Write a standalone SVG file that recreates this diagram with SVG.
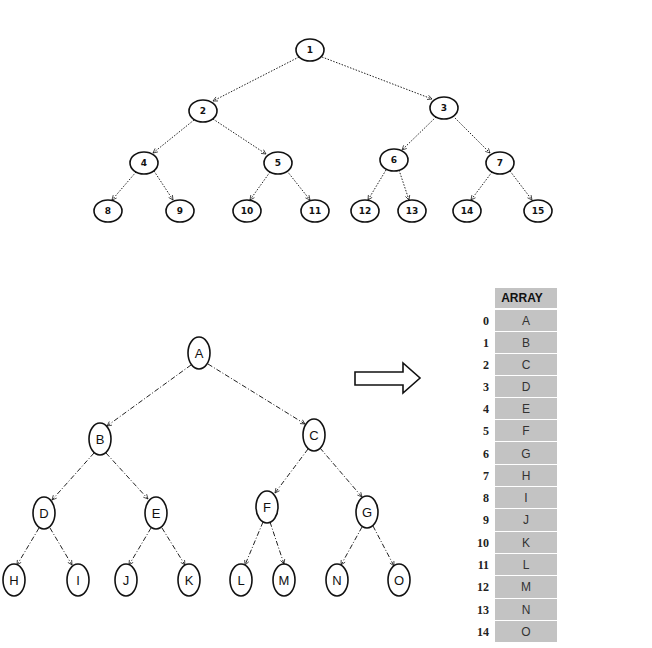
<svg xmlns="http://www.w3.org/2000/svg" width="652" height="648" viewBox="0 0 652 648">
<style>
.n1 ellipse{fill:#fff;stroke:#111;stroke-width:1.6}
.n1 text{font-family:"DejaVu Sans",sans-serif;font-weight:bold;font-size:9px;text-anchor:middle;fill:#111}
.n2 ellipse{fill:#fff;stroke:#111;stroke-width:1.6}
.n2 text{font-family:"Liberation Sans",Arial,sans-serif;font-size:13px;text-anchor:middle;fill:#111}
.e1 line{stroke:#222;stroke-width:1;stroke-dasharray:1.5 1.5;marker-end:url(#ah)}
.e2 line{stroke:#222;stroke-width:1;stroke-dasharray:5 2 1 2;marker-end:url(#ah)}
.cell{fill:#c3c3c3}
.ct{font-family:"Liberation Sans",Arial,sans-serif;font-size:12px;text-anchor:middle;fill:#333}
.ix{font-family:"Liberation Serif","Times New Roman",serif;font-weight:bold;font-size:12px;text-anchor:end;fill:#222}
</style>
<defs>
<marker id="ah" viewBox="0 0 8 8" refX="7" refY="4" markerWidth="6" markerHeight="6" orient="auto" markerUnits="userSpaceOnUse">
<path d="M1,1 L7,4 L1,7" fill="none" stroke="#222" stroke-width="1"/>
</marker>
</defs>
<rect width="652" height="648" fill="#fff"/>
<g id="connectors">
<g class="e1">
<line x1="299" y1="57" x2="213" y2="101"/>
<line x1="322" y1="57" x2="432" y2="99"/>
<line x1="194" y1="120" x2="153" y2="153"/>
<line x1="213" y1="119" x2="266" y2="154"/>
<line x1="436" y1="117" x2="402" y2="150"/>
<line x1="453" y1="116" x2="490" y2="153"/>
<line x1="136" y1="172" x2="112" y2="200"/>
<line x1="154" y1="171" x2="173" y2="200"/>
<line x1="270" y1="172" x2="250" y2="200"/>
<line x1="287" y1="171" x2="310" y2="200"/>
<line x1="386" y1="170" x2="368" y2="200"/>
<line x1="399" y1="170" x2="409" y2="200"/>
<line x1="492" y1="172" x2="471" y2="200"/>
<line x1="510" y1="171" x2="532" y2="200"/>
</g>
<g class="e2">
<line x1="191" y1="365" x2="107" y2="426"/>
<line x1="208" y1="364" x2="305" y2="424"/>
<line x1="94" y1="453" x2="52" y2="500"/>
<line x1="106" y1="453" x2="148" y2="499"/>
<line x1="308" y1="449" x2="275" y2="493"/>
<line x1="320" y1="448" x2="362" y2="497"/>
<line x1="39" y1="528" x2="17" y2="565"/>
<line x1="50" y1="528" x2="72" y2="565"/>
<line x1="151" y1="528" x2="129" y2="565"/>
<line x1="162" y1="528" x2="185" y2="565"/>
<line x1="263" y1="522" x2="245" y2="565"/>
<line x1="270" y1="522" x2="284" y2="564"/>
<line x1="362" y1="527" x2="341" y2="565"/>
<line x1="373" y1="526" x2="394" y2="566"/>
</g>
</g>
<g id="n_1" class="n1"><ellipse cx="310" cy="50" rx="14" ry="11"/><text x="310" y="53">1</text></g>
<g id="n_2" class="n1"><ellipse cx="203" cy="111" rx="14" ry="11"/><text x="203" y="114">2</text></g>
<g id="n_3" class="n1"><ellipse cx="444" cy="108" rx="14" ry="11"/><text x="444" y="111">3</text></g>
<g id="n_4" class="n1"><ellipse cx="144" cy="163" rx="14" ry="11"/><text x="144" y="166">4</text></g>
<g id="n_5" class="n1"><ellipse cx="278" cy="163" rx="14" ry="11"/><text x="278" y="166">5</text></g>
<g id="n_6" class="n1"><ellipse cx="394" cy="160" rx="14" ry="11"/><text x="394" y="163">6</text></g>
<g id="n_7" class="n1"><ellipse cx="500" cy="163" rx="14" ry="11"/><text x="500" y="166">7</text></g>
<g id="n_8" class="n1"><ellipse cx="108" cy="211" rx="14" ry="11"/><text x="108" y="214">8</text></g>
<g id="n_9" class="n1"><ellipse cx="180" cy="211" rx="14" ry="11"/><text x="180" y="214">9</text></g>
<g id="n_10" class="n1"><ellipse cx="247" cy="211" rx="14" ry="11"/><text x="247" y="214">10</text></g>
<g id="n_11" class="n1"><ellipse cx="315" cy="211" rx="14" ry="11"/><text x="315" y="214">11</text></g>
<g id="n_12" class="n1"><ellipse cx="365" cy="211" rx="14" ry="11"/><text x="365" y="214">12</text></g>
<g id="n_13" class="n1"><ellipse cx="412" cy="211" rx="14" ry="11"/><text x="412" y="214">13</text></g>
<g id="n_14" class="n1"><ellipse cx="467" cy="211" rx="14" ry="11"/><text x="467" y="214">14</text></g>
<g id="n_15" class="n1"><ellipse cx="538" cy="211" rx="14" ry="11"/><text x="538" y="214">15</text></g>

<g id="n_A" class="n2"><ellipse cx="199" cy="353" rx="11" ry="16"/><text x="199" y="358">A</text></g>
<g id="n_B" class="n2"><ellipse cx="100" cy="439" rx="11" ry="16"/><text x="100" y="444">B</text></g>
<g id="n_C" class="n2"><ellipse cx="314" cy="435" rx="11" ry="16"/><text x="314" y="440">C</text></g>
<g id="n_D" class="n2"><ellipse cx="44" cy="513" rx="11" ry="16"/><text x="44" y="518">D</text></g>
<g id="n_E" class="n2"><ellipse cx="156" cy="513" rx="11" ry="16"/><text x="156" y="518">E</text></g>
<g id="n_F" class="n2"><ellipse cx="267" cy="507" rx="11" ry="16"/><text x="267" y="512">F</text></g>
<g id="n_G" class="n2"><ellipse cx="367" cy="512" rx="11" ry="16"/><text x="367" y="517">G</text></g>
<g id="n_H" class="n2"><ellipse cx="14" cy="580" rx="11" ry="16"/><text x="14" y="585">H</text></g>
<g id="n_I" class="n2"><ellipse cx="78" cy="580" rx="11" ry="16"/><text x="78" y="585">I</text></g>
<g id="n_J" class="n2"><ellipse cx="126" cy="580" rx="11" ry="16"/><text x="126" y="585">J</text></g>
<g id="n_K" class="n2"><ellipse cx="189" cy="580" rx="11" ry="16"/><text x="189" y="585">K</text></g>
<g id="n_L" class="n2"><ellipse cx="241" cy="580" rx="11" ry="16"/><text x="241" y="585">L</text></g>
<g id="n_M" class="n2"><ellipse cx="284" cy="580" rx="11" ry="16"/><text x="284" y="585">M</text></g>
<g id="n_N" class="n2"><ellipse cx="337" cy="580" rx="11" ry="16"/><text x="337" y="585">N</text></g>
<g id="n_O" class="n2"><ellipse cx="399" cy="580" rx="11" ry="16"/><text x="399" y="585">O</text></g>

<g id="block-arrow">
<path d="M355,372 L403,372 L403,363 L420,378 L403,393 L403,385 L355,385 Z" fill="#fff" stroke="#111" stroke-width="1.6" stroke-linejoin="miter"/>
</g>

<g id="array">
<rect class="cell" x="495" y="288" width="62" height="20"/>
<text x="522" y="302" font-family="Liberation Sans,Arial,sans-serif" font-weight="bold" font-size="12" text-anchor="middle" fill="#111">ARRAY</text>
<rect class="cell" x="495" y="310" width="62" height="21"/><text class="ct" x="526" y="325">A</text><text class="ix" x="489" y="325">0</text>
<rect class="cell" x="495" y="332" width="62" height="21"/><text class="ct" x="526" y="347">B</text><text class="ix" x="489" y="347">1</text>
<rect class="cell" x="495" y="354" width="62" height="21"/><text class="ct" x="526" y="369">C</text><text class="ix" x="489" y="369">2</text>
<rect class="cell" x="495" y="376" width="62" height="21"/><text class="ct" x="526" y="391">D</text><text class="ix" x="489" y="391">3</text>
<rect class="cell" x="495" y="398" width="62" height="21"/><text class="ct" x="526" y="413">E</text><text class="ix" x="489" y="413">4</text>
<rect class="cell" x="495" y="420" width="62" height="21"/><text class="ct" x="526" y="435">F</text><text class="ix" x="489" y="435">5</text>
<rect class="cell" x="495" y="442" width="62" height="22"/><text class="ct" x="526" y="458">G</text><text class="ix" x="489" y="458">6</text>
<rect class="cell" x="495" y="465" width="62" height="21"/><text class="ct" x="526" y="480">H</text><text class="ix" x="489" y="480">7</text>
<rect class="cell" x="495" y="487" width="62" height="21"/><text class="ct" x="526" y="502">I</text><text class="ix" x="489" y="502">8</text>
<rect class="cell" x="495" y="509" width="62" height="22"/><text class="ct" x="526" y="524">J</text><text class="ix" x="489" y="524">9</text>
<rect class="cell" x="495" y="532" width="62" height="21"/><text class="ct" x="526" y="547">K</text><text class="ix" x="489" y="547">10</text>
<rect class="cell" x="495" y="554" width="62" height="21"/><text class="ct" x="526" y="569">L</text><text class="ix" x="489" y="569">11</text>
<rect class="cell" x="495" y="576" width="62" height="22"/><text class="ct" x="526" y="591">M</text><text class="ix" x="489" y="591">12</text>
<rect class="cell" x="495" y="599" width="62" height="21"/><text class="ct" x="526" y="614">N</text><text class="ix" x="489" y="614">13</text>
<rect class="cell" x="495" y="621" width="62" height="21"/><text class="ct" x="526" y="636">O</text><text class="ix" x="489" y="636">14</text>
</g>
</svg>
